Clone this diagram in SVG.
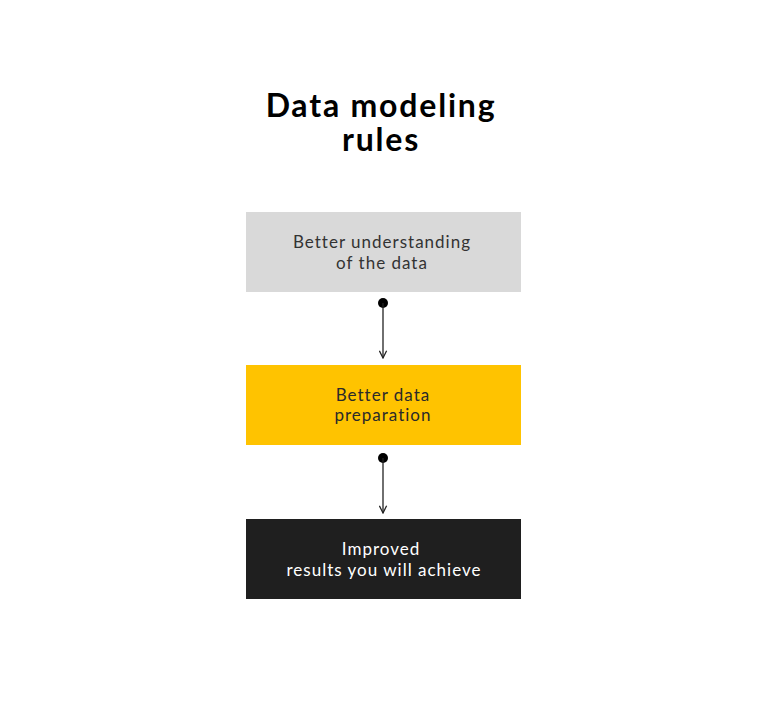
<svg xmlns="http://www.w3.org/2000/svg" width="768" height="709" viewBox="0 0 768 709">
<style>
.title{font-family:Lato,"Liberation Sans",sans-serif;font-weight:700;font-size:32px;letter-spacing:1.8px;fill:#000;text-anchor:middle}
.lbl{font-family:Lato,"Liberation Sans",sans-serif;font-size:17px;letter-spacing:1px;text-anchor:middle}
.conn{stroke:#222;stroke-width:1.3;fill:none}
</style>
<defs>
<marker id="arr" viewBox="0 0 10 10" refX="9" refY="5" markerWidth="9" markerHeight="9" markerUnits="userSpaceOnUse" orient="auto">
<path d="M1,1 L9,5 L1,9" fill="none" stroke="#222" stroke-width="1.4"/>
</marker>
</defs>
<rect width="768" height="709" fill="#fff"/>
<g id="title">
<text class="title" x="381" y="117">Data modeling</text>
<text class="title" x="381" y="151">rules</text>
</g>
<g id="node1">
<rect x="246" y="212" width="275" height="80" fill="#d9d9d9"/>
<text class="lbl" x="382" y="248" fill="#333">Better understanding</text>
<text class="lbl" x="382" y="269" fill="#333">of the data</text>
</g>
<g id="node2">
<rect x="246" y="365" width="275" height="80" fill="#ffc300"/>
<text class="lbl" x="383" y="401" fill="#2a2a2a">Better data</text>
<text class="lbl" x="383" y="421" fill="#2a2a2a">preparation</text>
</g>
<g id="node3">
<rect x="246" y="519" width="275" height="80" fill="#1f1f1f"/>
<text class="lbl" x="381" y="555" fill="#fff">Improved</text>
<text class="lbl" x="384" y="576" fill="#fff">results you will achieve</text>
</g>
<g id="connectors">
<circle cx="383" cy="303" r="5" fill="#000"/>
<line class="conn" x1="383" y1="303" x2="383" y2="358" marker-end="url(#arr)"/>
<circle cx="383" cy="458" r="5" fill="#000"/>
<line class="conn" x1="383" y1="458" x2="383" y2="513" marker-end="url(#arr)"/>
</g>
</svg>
